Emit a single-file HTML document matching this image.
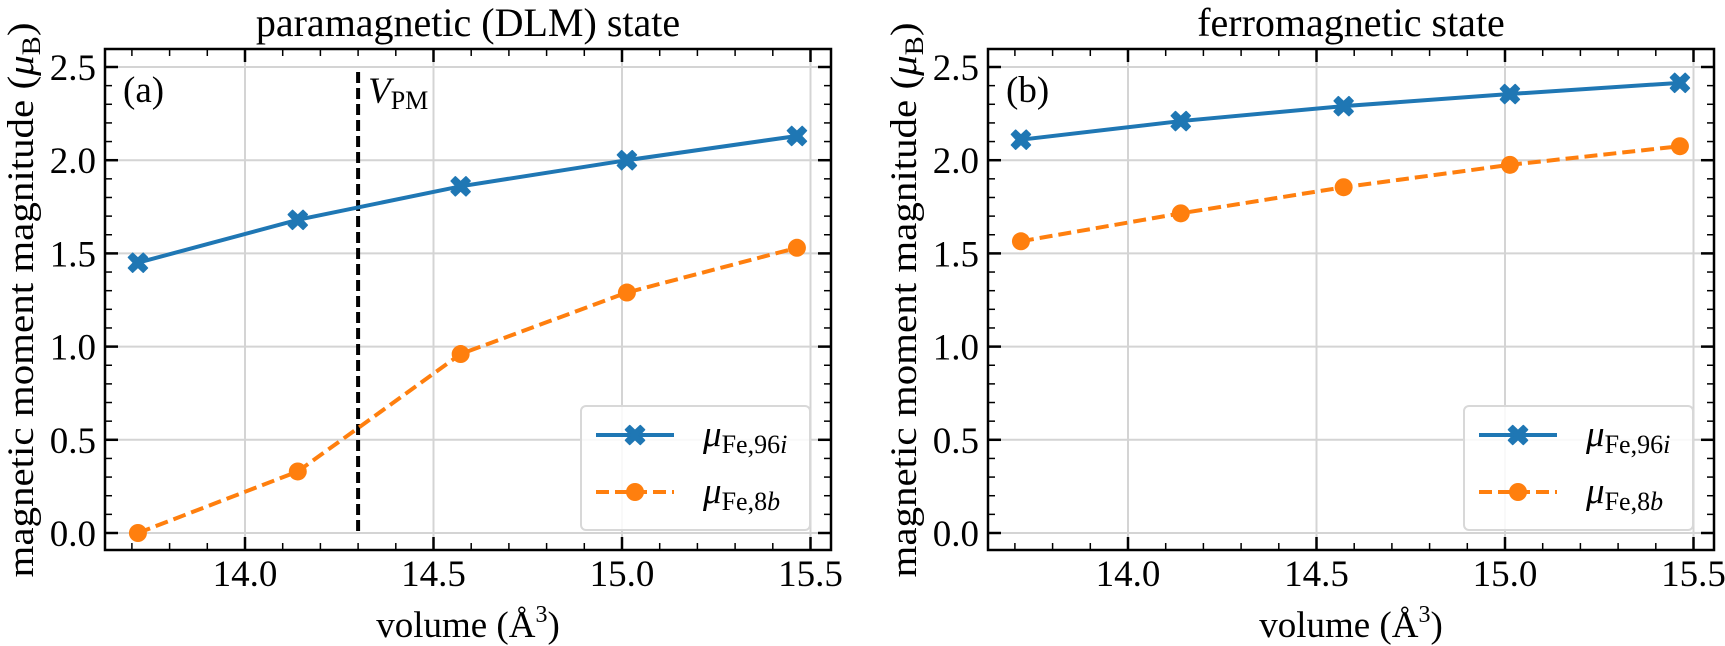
<!DOCTYPE html>
<html><head><meta charset="utf-8"><style>
html,body{margin:0;padding:0;background:#fff;}
svg{display:block;}
svg text{font-family:"Liberation Serif","DejaVu Serif",serif !important;fill:#000;}
</style></head><body>
<svg id="s" width="1725" height="646" viewBox="0 0 1725 646" xmlns="http://www.w3.org/2000/svg" font-family="Liberation Serif, DejaVu Serif, serif"></svg>
<script>
const S=document.getElementById('s');let h='';
function panel(ox,title,lab,blue,orange,vpm){
  const L=ox+105,R=ox+831,T=49,B=550;
  const X=v=>ox+245+(v-14)*377, Y=v=>533-v*186.4;
  for(const v of [14,14.5,15,15.5]) h+=`<line x1="${X(v)}" y1="${T}" x2="${X(v)}" y2="${B}" stroke="#d4d4d4" stroke-width="2"/>`;
  for(const v of [0,0.5,1,1.5,2,2.5]) h+=`<line x1="${L}" y1="${Y(v)}" x2="${R}" y2="${Y(v)}" stroke="#d4d4d4" stroke-width="2"/>`;
  for(let i=137;i<=155;i++){const v=i/10,x=X(v),maj=i%5==0,l=maj?13:7,w=maj?2.5:1.5;
    h+=`<line x1="${x}" y1="${B}" x2="${x}" y2="${B-l}" stroke="#000" stroke-width="${w}"/><line x1="${x}" y1="${T}" x2="${x}" y2="${T+l}" stroke="#000" stroke-width="${w}"/>`;
    if(maj) h+=`<text x="${x}" y="586" font-size="37" text-anchor="middle">${v.toFixed(1)}</text>`;}
  for(let i=0;i<=25;i++){const v=i/10,y=Y(v),maj=i%5==0,l=maj?13:7,w=maj?2.5:1.5;
    h+=`<line x1="${L}" y1="${y}" x2="${L+l}" y2="${y}" stroke="#000" stroke-width="${w}"/><line x1="${R}" y1="${y}" x2="${R-l}" y2="${y}" stroke="#000" stroke-width="${w}"/>`;
    if(maj) h+=`<text x="${L-9}" y="${y+13}" font-size="37" text-anchor="end">${v.toFixed(1)}</text>`;}
  if(vpm){h+=`<line x1="${X(14.3)}" y1="72" x2="${X(14.3)}" y2="533" stroke="#000" stroke-width="4" stroke-dasharray="11,5"/>`;
    h+=`<text x="${X(14.3)+10}" y="103" font-size="37" font-style="italic">V<tspan font-style="normal" font-size="26" dy="6">PM</tspan></text>`;}
  const xs=[13.716,14.14,14.572,15.013,15.464];
  const pts=a=>xs.map((x,i)=>X(x)+','+Y(a[i])).join(' ');
  h+=`<polyline points="${pts(orange)}" fill="none" stroke="#ff7f0e" stroke-width="4" stroke-dasharray="13,6"/>`;
  xs.forEach((x,i)=>h+=`<circle cx="${X(x)}" cy="${Y(orange[i])}" r="9" fill="#ff7f0e"/>`);
  h+=`<polyline points="${pts(blue)}" fill="none" stroke="#1f77b4" stroke-width="4"/>`;
  const xm=(cx,cy)=>{const a=9.5,w=4.2,c=4.5;return `<path d="M${cx-a},${cy-a+w} L${cx-a+w},${cy-a} L${cx},${cy-c} L${cx+a-w},${cy-a} L${cx+a},${cy-a+w} L${cx+c},${cy} L${cx+a},${cy+a-w} L${cx+a-w},${cy+a} L${cx},${cy+c} L${cx-a+w},${cy+a} L${cx-a},${cy+a-w} L${cx-c},${cy} Z" fill="#1f77b4" stroke="#1f77b4" stroke-width="1.5" stroke-linejoin="round"/>`;};
  xs.forEach((x,i)=>h+=xm(X(x),Y(blue[i])));
  h+=`<rect x="${L}" y="${T}" width="${R-L}" height="${B-T}" fill="none" stroke="#000" stroke-width="2.5"/>`;
  const lx=ox+581;
  h+=`<rect x="${lx}" y="406" width="229" height="124" rx="5" fill="#fff" fill-opacity="0.85" stroke="#d8d8d8" stroke-width="2"/>`;
  h+=`<line x1="${lx+15}" y1="435" x2="${lx+93}" y2="435" stroke="#1f77b4" stroke-width="4"/>`+xm(lx+54,435);
  h+=`<line x1="${lx+15}" y1="492" x2="${lx+93}" y2="492" stroke="#ff7f0e" stroke-width="4" stroke-dasharray="13,6"/><circle cx="${lx+54}" cy="492" r="9" fill="#ff7f0e"/>`;
  h+=`<text x="${lx+122}" y="446" font-size="37" font-style="italic">μ<tspan font-style="normal" font-size="26" dy="7">Fe,96</tspan><tspan font-size="26">i</tspan></text>`;
  h+=`<text x="${lx+122}" y="503" font-size="37" font-style="italic">μ<tspan font-style="normal" font-size="26" dy="7">Fe,8</tspan><tspan font-size="26">b</tspan></text>`;
  h+=`<text x="${L+18}" y="102" font-size="37">${lab}</text>`;
  h+=`<text x="${(L+R)/2}" y="36" font-size="40" text-anchor="middle">${title}</text>`;
  h+=`<text x="${(L+R)/2}" y="637" font-size="37" text-anchor="middle">volume (Å<tspan font-size="24" dy="-15">3</tspan><tspan dy="15">)</tspan></text>`;
  h+=`<text transform="translate(${ox+33},300) rotate(-90)" font-size="37" text-anchor="middle" textLength="555" lengthAdjust="spacingAndGlyphs">magnetic moment magnitude (<tspan font-style="italic">μ</tspan><tspan font-size="26" dy="7">B</tspan><tspan dy="-7">)</tspan></text>`;
}
panel(0,'paramagnetic (DLM) state','(a)',[1.45,1.68,1.86,2.0,2.13],[0.0,0.33,0.96,1.29,1.53],true);
panel(883,'ferromagnetic state','(b)',[2.11,2.21,2.29,2.355,2.415],[1.565,1.715,1.855,1.975,2.075],false);
S.innerHTML=h;
</script>
</body></html>
